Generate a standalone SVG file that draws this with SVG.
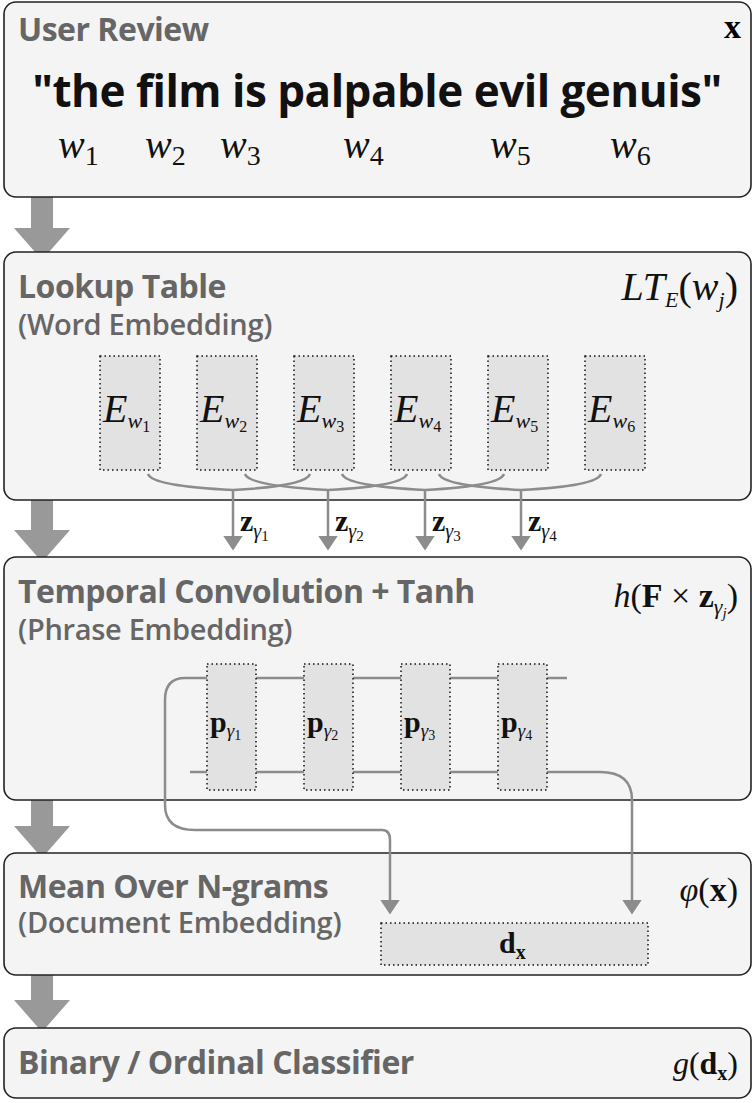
<svg xmlns="http://www.w3.org/2000/svg" width="755" height="1103" viewBox="0 0 755 1103">
<style>
.box{fill:#f4f4f4;stroke:#222;stroke-width:1.6}
.t{font-family:"Open Sans",sans-serif;font-weight:bold;fill:#666;font-size:32px;letter-spacing:-0.5px}
.s{font-family:"Open Sans",sans-serif;font-weight:600;fill:#666;font-size:29px;letter-spacing:-0.3px}
.m{font-family:"Liberation Serif",serif;font-style:italic;font-size:40px;fill:#111}
.cell{fill:#e2e2e2;stroke:#111;stroke-width:1.5;stroke-dasharray:1.5 3}
.c{fill:none;stroke:#8c8c8c;stroke-width:2.5}
.big{fill:#999}
</style>
<defs>
<marker id="ah" markerWidth="8" markerHeight="8" refX="5" refY="4" orient="auto" markerUnits="strokeWidth"><path d="M0,0 L6,4 L0,8 Z" fill="#8c8c8c"/></marker>
</defs>
<g id="bigarrows">
<polygon class="big" points="31,185 53,185 53,228 70,228 42,260 14,228 31,228"/>
<polygon class="big" points="31,490 53,490 53,530 70,530 42,562 14,530 31,530"/>
<polygon class="big" points="31,788 53,788 53,826 70,826 42,858 14,826 31,826"/>
<polygon class="big" points="31,965 53,965 53,1000 70,1000 42,1032 14,1000 31,1000"/>
</g>
<g id="review">
<rect class="box" x="4" y="2" width="747" height="195" rx="12"/>
<text class="t" x="18" y="41">User Review</text>
<text x="741" y="38" text-anchor="end" font-family="Liberation Serif,serif" font-weight="bold" font-size="34">x</text>
<text x="377" y="107" text-anchor="middle" font-family="Open Sans,sans-serif" font-weight="bold" font-size="44" letter-spacing="-0.5" fill="#111">"the film is palpable evil genuis"</text>
<text class="m" x="58" y="158">w<tspan font-style="normal" font-size="28" dy="7">1</tspan></text>
<text class="m" x="145" y="158">w<tspan font-style="normal" font-size="28" dy="7">2</tspan></text>
<text class="m" x="220" y="158">w<tspan font-style="normal" font-size="28" dy="7">3</tspan></text>
<text class="m" x="343" y="158">w<tspan font-style="normal" font-size="28" dy="7">4</tspan></text>
<text class="m" x="490" y="158">w<tspan font-style="normal" font-size="28" dy="7">5</tspan></text>
<text class="m" x="610" y="158">w<tspan font-style="normal" font-size="28" dy="7">6</tspan></text>
</g>
<g id="lookup">
<rect class="box" x="4" y="252" width="747" height="248" rx="12"/>
<text class="t" x="18" y="298">Lookup Table</text>
<text class="s" x="18" y="335">(Word Embedding)</text>
<text class="m" x="738" y="300" text-anchor="end" font-size="34">LT<tspan font-size="22" dy="7">E</tspan><tspan font-style="normal" dy="-7">(</tspan>w<tspan font-size="22" dy="7">j</tspan><tspan font-style="normal" dy="-7">)</tspan></text>
<rect class="cell" x="100" y="356" width="60" height="114"/>
<rect class="cell" x="197" y="356" width="60" height="114"/>
<rect class="cell" x="294" y="356" width="60" height="114"/>
<rect class="cell" x="391" y="356" width="60" height="114"/>
<rect class="cell" x="488" y="356" width="60" height="114"/>
<rect class="cell" x="585" y="356" width="60" height="114"/>
<g class="m" font-size="42">
<text x="103" y="422">E<tspan font-size="22" dy="6">w</tspan><tspan font-style="normal" font-size="16" dy="4">1</tspan></text>
<text x="200" y="422">E<tspan font-size="22" dy="6">w</tspan><tspan font-style="normal" font-size="16" dy="4">2</tspan></text>
<text x="297" y="422">E<tspan font-size="22" dy="6">w</tspan><tspan font-style="normal" font-size="16" dy="4">3</tspan></text>
<text x="394" y="422">E<tspan font-size="22" dy="6">w</tspan><tspan font-style="normal" font-size="16" dy="4">4</tspan></text>
<text x="491" y="422">E<tspan font-size="22" dy="6">w</tspan><tspan font-style="normal" font-size="16" dy="4">5</tspan></text>
<text x="588" y="422">E<tspan font-size="22" dy="6">w</tspan><tspan font-style="normal" font-size="16" dy="4">6</tspan></text>
</g>
</g>
<g id="conv">
<rect class="box" x="4" y="557" width="747" height="243" rx="12"/>
<text class="t" x="18" y="603">Temporal Convolution + Tanh</text>
<text class="s" x="18" y="640">(Phrase Embedding)</text>
<text x="738" y="607" text-anchor="end" font-family="Liberation Serif,serif" font-size="34" fill="#111"><tspan font-style="italic">h</tspan>(<tspan font-weight="bold">F</tspan> × <tspan font-weight="bold">z</tspan><tspan font-style="italic" font-size="22" dy="7">γ</tspan><tspan font-style="italic" font-size="15" dy="4">j</tspan><tspan dy="-11">)</tspan></text>
</g>
<g id="mean">
<rect class="box" x="4" y="853" width="747" height="122" rx="12"/>
<text class="t" x="18" y="898">Mean Over N-grams</text>
<text class="s" x="18" y="933">(Document Embedding)</text>
<text x="738" y="901" text-anchor="end" font-family="Liberation Serif,serif" font-size="34" fill="#111"><tspan font-style="italic">φ</tspan>(<tspan font-weight="bold">x</tspan>)</text>
<rect class="cell" x="381" y="923" width="267" height="42"/>
<text x="499" y="953" font-family="Liberation Serif,serif" font-weight="bold" font-size="30" fill="#111">d<tspan font-size="20" dy="6">x</tspan></text>
</g>
<g id="classifier">
<rect class="box" x="4" y="1028" width="747" height="70" rx="12"/>
<text class="t" x="18" y="1074">Binary / Ordinal Classifier</text>
<text x="738" y="1074" text-anchor="end" font-family="Liberation Serif,serif" font-size="32" fill="#111"><tspan font-style="italic">g</tspan>(<tspan font-weight="bold">d</tspan><tspan font-weight="bold" font-size="20" dy="6">x</tspan><tspan dy="-6">)</tspan></text>
</g>
<g id="connectors">
<path class="c" d="M148,474 Q152,486 233,490 Q306,486 310,474"/>
<path class="c" d="M245,474 Q249,486 328,490 Q403,486 407,474"/>
<path class="c" d="M342,474 Q346,486 425,490 Q500,486 504,474"/>
<path class="c" d="M439,474 Q443,486 521,490 Q597,486 601,474"/>
<path class="c" d="M233,490 V548" marker-end="url(#ah)"/>
<path class="c" d="M328,490 V548" marker-end="url(#ah)"/>
<path class="c" d="M425,490 V548" marker-end="url(#ah)"/>
<path class="c" d="M521,490 V548" marker-end="url(#ah)"/>
<path class="c" d="M207,678 H185 Q165,678 165,700 V805 Q165,830 195,830 H382 Q390,830 390,840 V912" marker-end="url(#ah)"/>
<path class="c" d="M190,772 H207 M256,772 H304 M353,772 H401 M450,772 H498 M547,772 H600 Q632,772 632,800 V912" marker-end="url(#ah)"/>
<path class="c" d="M256,678 H304 M353,678 H401 M450,678 H498 M547,678 H567"/>
</g>
<g id="zlabels" font-family="Liberation Serif,serif" font-size="30" fill="#111">
<text x="240" y="531"><tspan font-weight="bold">z</tspan><tspan font-style="italic" font-size="20" dy="7">γ</tspan><tspan font-size="15" dy="3">1</tspan></text>
<text x="335" y="531"><tspan font-weight="bold">z</tspan><tspan font-style="italic" font-size="20" dy="7">γ</tspan><tspan font-size="15" dy="3">2</tspan></text>
<text x="432" y="531"><tspan font-weight="bold">z</tspan><tspan font-style="italic" font-size="20" dy="7">γ</tspan><tspan font-size="15" dy="3">3</tspan></text>
<text x="528" y="531"><tspan font-weight="bold">z</tspan><tspan font-style="italic" font-size="20" dy="7">γ</tspan><tspan font-size="15" dy="3">4</tspan></text>
</g>
<g id="pcells">
<rect class="cell" x="207" y="664" width="49" height="126"/>
<rect class="cell" x="304" y="664" width="49" height="126"/>
<rect class="cell" x="401" y="664" width="49" height="126"/>
<rect class="cell" x="498" y="664" width="49" height="126"/>
<g font-family="Liberation Serif,serif" font-size="30" fill="#111">
<text x="210" y="732"><tspan font-weight="bold">p</tspan><tspan font-style="italic" font-size="19" dy="5">γ</tspan><tspan font-size="14" dy="3">1</tspan></text>
<text x="307" y="732"><tspan font-weight="bold">p</tspan><tspan font-style="italic" font-size="19" dy="5">γ</tspan><tspan font-size="14" dy="3">2</tspan></text>
<text x="404" y="732"><tspan font-weight="bold">p</tspan><tspan font-style="italic" font-size="19" dy="5">γ</tspan><tspan font-size="14" dy="3">3</tspan></text>
<text x="501" y="732"><tspan font-weight="bold">p</tspan><tspan font-style="italic" font-size="19" dy="5">γ</tspan><tspan font-size="14" dy="3">4</tspan></text>
</g>
</g>
</svg>
